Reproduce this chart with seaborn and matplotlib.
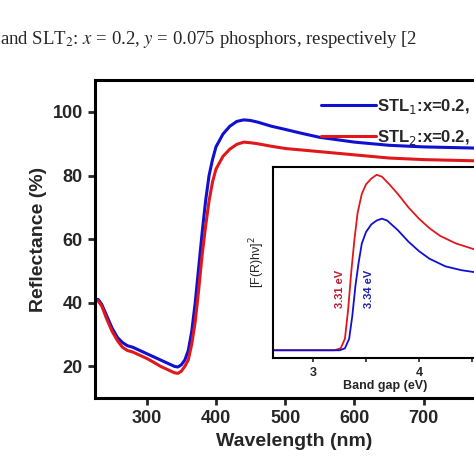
import matplotlib
matplotlib.use("Agg")
import matplotlib.pyplot as plt
import seaborn as sns
import pandas as pd

sns.set_style("white")
plt.rcParams['font.family'] = ['Liberation Sans', 'DejaVu Sans']

wl = [225, 230, 235, 242, 250, 258, 265, 272, 280, 290, 300, 310, 320, 330, 340, 345, 350, 355, 360, 365, 370, 375, 380, 385, 390, 395, 400, 410, 420, 430, 440, 450, 460, 480, 500, 525, 550, 600, 650, 700, 800]
stl1 = [41, 41, 39.5, 36, 32, 29, 27.5, 26.5, 26, 25, 24, 23, 22, 21, 20, 19.8, 20.5, 22, 25, 31, 40, 51, 62, 72, 80, 85, 89, 93, 95.5, 97, 97.5, 97.3, 96.8, 95.5, 94.5, 93.2, 92, 90.5, 89.5, 89, 88.5]
stl2 = [41, 40.5, 39, 35, 31, 28, 26, 25, 24.5, 23.5, 22.5, 21.3, 20, 19, 18, 17.8, 18.5, 20, 22, 27, 34, 44, 55, 64, 72, 78, 82, 86, 88.3, 89.8, 90.5, 90.3, 90, 89.2, 88.5, 88, 87.5, 86.5, 85.5, 85, 84.5]

ev_red = [2.6, 3.2, 3.26, 3.3, 3.33, 3.36, 3.39, 3.42, 3.46, 3.5, 3.55, 3.6, 3.65, 3.72, 3.8, 3.9, 4.0, 4.1, 4.2, 4.35, 4.52, 4.7]
fr_red = [0.04, 0.04, 0.05, 0.1, 0.25, 0.45, 0.62, 0.76, 0.86, 0.91, 0.94, 0.96, 0.95, 0.91, 0.86, 0.79, 0.73, 0.68, 0.64, 0.6, 0.57, 0.55]
ev_blue = [2.6, 3.25, 3.3, 3.34, 3.37, 3.4, 3.43, 3.46, 3.5, 3.55, 3.6, 3.65, 3.7, 3.8, 3.9, 4.0, 4.1, 4.25, 4.4, 4.52, 4.7]
fr_blue = [0.04, 0.04, 0.05, 0.1, 0.22, 0.38, 0.5, 0.6, 0.66, 0.7, 0.72, 0.73, 0.72, 0.67, 0.61, 0.56, 0.52, 0.48, 0.46, 0.45, 0.44]

fig = plt.figure(figsize=(4.74, 4.63), dpi=100)
fig.text(0.0, 0.905, "and SLT$_2$: $x$ = 0.2, $y$ = 0.075 phosphors, respectively [2",
         family="Liberation Serif", fontsize=13.5, math_fontfamily="stix")

ax = fig.add_axes([0.2, 0.14, 0.84, 0.687])
df = pd.DataFrame({"wl": wl, "a": stl1, "b": stl2})
sns.lineplot(data=df, x="wl", y="a", ax=ax, color="#1010d0", lw=2.2, label="STL$_1$:x=0.2, y=0.05")
sns.lineplot(data=df, x="wl", y="b", ax=ax, color="#e0181c", lw=2.2, label="STL$_2$:x=0.2, y=0.075")
ax.set_xlim(225, 800)
ax.set_ylim(10, 110)
ax.set_xticks([300, 400, 500, 600, 700, 800])
ax.set_yticks([20, 40, 60, 80, 100])
ax.set_xlabel("Wavelength (nm)", fontsize=14, fontweight="bold")
ax.set_ylabel("Reflectance (%)", fontsize=14, fontweight="bold")
ax.tick_params(axis="both", labelsize=13, width=2, length=5, direction="out", left=True, bottom=True)
for l in ax.get_xticklabels() + ax.get_yticklabels():
    l.set_fontweight("bold")
for s in ax.spines.values():
    s.set_linewidth(2.2)
    s.set_color("black")
leg = ax.legend(loc="upper left", bbox_to_anchor=(0.53, 0.995), frameon=False,
                prop={"weight": "bold", "size": 12}, handlelength=3.3, labelspacing=0.75,
                handletextpad=0.1)

ins = fig.add_axes([0.576, 0.227, 0.475, 0.412])
sns.lineplot(x=ev_red, y=fr_red, ax=ins, color="#e0181c", lw=1.3)
sns.lineplot(x=ev_blue, y=fr_blue, ax=ins, color="#1010d0", lw=1.3)
ins.set_xlim(2.62, 4.75)
ins.set_ylim(0, 1)
ins.set_yticks([])
ins.set_xticks([3, 4])
ins.set_xticks([3.5, 4.5], minor=True)
ins.tick_params(axis="x", which="both", bottom=True, labelsize=9, width=1.2, length=3)
for l in ins.get_xticklabels():
    l.set_fontweight("bold")
for s in ins.spines.values():
    s.set_linewidth(1.5)
    s.set_color("black")
ins.set_xlabel("Band gap (eV)", fontsize=9, fontweight="bold", labelpad=1)
ins.set_ylabel("[F(R)h\u03bd]$^2$", fontsize=9, labelpad=4)
ins.text(3.25, 0.36, "3.31 eV", rotation=90, color="#c0182c", fontsize=8, fontweight="bold", ha="center", va="center")
ins.text(3.53, 0.36, "3.34 eV", rotation=90, color="#2020b0", fontsize=8, fontweight="bold", ha="center", va="center")

fig.savefig("out.png", dpi=100)
